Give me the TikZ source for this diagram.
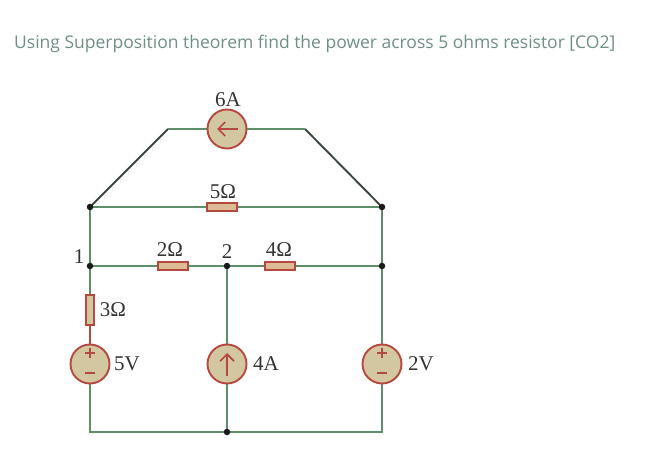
\documentclass[tikz,border=0pt]{standalone}
\usepackage{fontspec}
\setmainfont{Liberation Serif}
\newfontfamily\titlefont{Open Sans}
\usetikzlibrary{arrows.meta,backgrounds}
\definecolor{wirec}{HTML}{5E8F69}
\definecolor{redc}{HTML}{B5483F}
\definecolor{fillc}{HTML}{D3C7A2}
\definecolor{resc}{HTML}{DDBB95}
\definecolor{titlec}{HTML}{6F8F86}
\definecolor{darkc}{HTML}{3C463E}
\tikzset{
 wire/.style={draw=wirec,line width=2pt},
 dark/.style={draw=darkc,line width=1.9pt},
 lead/.style={draw=redc,line width=2pt},
 srcbox/.style={circle,draw=redc,fill=fillc,line width=1.9pt,minimum size=39pt,inner sep=0pt},
 hres/.style={rectangle,draw=redc,fill=resc,line width=1.9pt,minimum width=30pt,minimum height=8pt,inner sep=0pt},
 vres/.style={rectangle,draw=redc,fill=fillc,line width=1.9pt,minimum width=8pt,minimum height=30pt,inner sep=0pt},
 dotn/.style={circle,fill=black!90,minimum size=6.5pt,inner sep=0pt},
 lab/.style={font=\fontsize{21}{21}\selectfont,text=black!80,inner sep=0pt},
 arr/.style={draw=redc,line width=1.7pt,-{Straight Barb[length=7pt,width=14pt]}},
 sign/.style={draw=redc,line width=1.7pt},
}
\begin{document}
\begin{tikzpicture}[x=1pt,y=-1pt]
\useasboundingbox (0,0) rectangle (664,462);
\node[anchor=west,inner sep=0pt,text=titlec,font=\titlefont\fontsize{17.5}{20}\selectfont] (title) at (14,43.5) {Using Superposition theorem find the power across 5 ohms resistor [CO2]};
% components
\node[srcbox] (s6) at (227,129) {};
\node[srcbox] (s5) at (90,364) {};
\node[srcbox] (s4) at (227,364) {};
\node[srcbox] (s2) at (382,364) {};
\node[hres] (r5) at (222,207) {};
\node[hres] (r2) at (173,266) {};
\node[hres] (r4) at (280,266) {};
\node[vres] (r3) at (90,310) {};
% junctions
\node[dotn] (tl) at (90,207) {};
\node[dotn] (tr) at (382,207) {};
\node[dotn] (n1) at (90,266) {};
\node[dotn] (n2) at (227,266) {};
\node[dotn] (nr) at (382,266) {};
\node[dotn] (nb) at (227,432) {};
\coordinate (bl) at (90,432);
\coordinate (br) at (382,432);
\coordinate (a) at (168,129);
\coordinate (b) at (305,129);
% wires
\begin{pgfonlayer}{background}
\fill[white] (0,0) rectangle (664,462);
\draw[dark] (tl.center) -- (a);
\draw[dark] (tr.center) -- (b);
\draw[wire] (a) -- (s6);
\draw[wire] (b) -- (s6);
\draw[wire] (tl) -- (r5);
\draw[wire] (r5) -- (tr);
\draw[wire] (n1) -- (r2);
\draw[wire] (r2) -- (n2);
\draw[wire] (n2) -- (r4);
\draw[wire] (r4) -- (nr);
\draw[wire] (tl) -- (n1);
\draw[wire] (n1) -- (r3);
\draw[lead] (r3) -- (s5);
\draw[wire] (tr) -- (nr);
\draw[wire] (nr) -- (s2);
\draw[wire] (n2) -- (s4);
\draw[wire,line join=miter] (s5) |- (nb);
\draw[wire,line join=miter] (s2) |- (nb);
\draw[wire] (s4) -- (nb);
\end{pgfonlayer}
% symbols
\draw[arr] (238,129) -- (217,129);
\draw[arr] (227,376) -- (227,353);
\draw[sign] (85,353) -- (95,353) (90,348) -- (90,358) (85,373) -- (95,373);
\draw[sign] (377,353) -- (387,353) (382,348) -- (382,358) (377,373) -- (387,373);
% labels
\node[lab] (l6) at (228,100) {6A};
\node[lab] (l5) at (223,192) {5Ω};
\node[lab] (l2) at (170,250) {2Ω};
\node[lab] (ln2) at (227,252) {2};
\node[lab] (l4) at (279,250) {4Ω};
\node[lab] (ln1) at (79,257) {1};
\node[lab] (l3) at (113,310) {3Ω};
\node[lab] (lv5) at (127,364) {5V};
\node[lab] (la4) at (266,364) {4A};
\node[lab] (lv2) at (421,364) {2V};
\end{tikzpicture}
\end{document}
